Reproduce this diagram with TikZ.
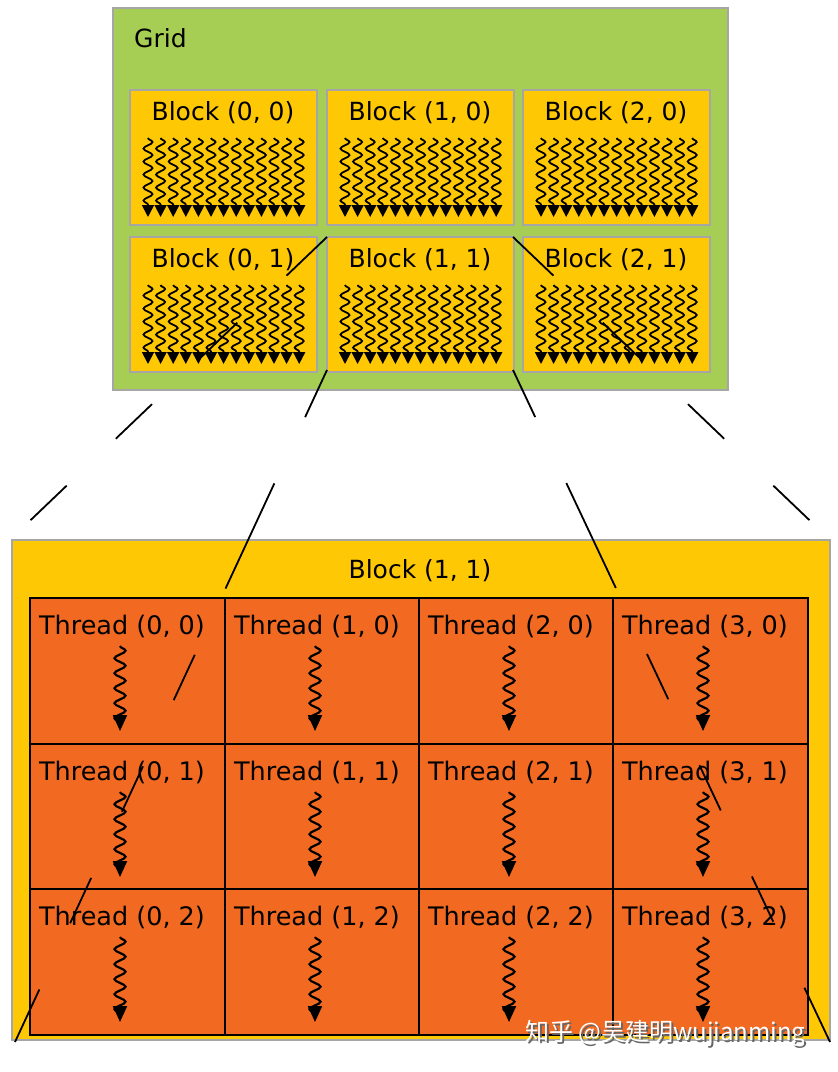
\documentclass[tikz,border=0pt]{standalone}
\usepackage{fontspec}
\setmainfont{DejaVu Sans}
\newfontfamily\cjk{Noto Sans CJK SC}
\usetikzlibrary{decorations.pathmorphing,arrows.meta}
\definecolor{gridg}{HTML}{A6CE55}
\definecolor{blky}{HTML}{FFC805}
\definecolor{thro}{HTML}{F26A22}
\begin{document}
\begin{tikzpicture}[x=1pt,y=-1pt,
  gridbox/.style={fill=gridg,draw=gray!70,line width=1.5pt},
  blockbox/.style={fill=blky,draw=gray!70,line width=1.5pt},
  cell/.style={fill=thro,draw=black,line width=1.8pt},
  thr/.style={line width=2.2pt,decorate,decoration={snake,amplitude=5.5pt,segment length=15pt,post length=8pt},-{Triangle[length=16pt,width=14pt]}},
  bthr/.style={line width=1.8pt,decorate,decoration={snake,amplitude=4.5pt,segment length=13pt,post length=6pt},-{Triangle[length=12pt,width=12pt]}},
  zoomline/.style={line width=1.8pt,dash pattern=on 52pt off 73pt on 116pt off 73pt on 50pt off 73pt on 50pt off 73pt on 50pt off 73pt on 60pt},
  zoomtop/.style={line width=1.8pt,dash pattern=on 56pt off 68pt on 50pt off 68pt on 50pt off 68pt on 50pt off 68pt},
  lbl/.style={font=\fontsize{25}{30}\selectfont,inner sep=0pt}]
\useasboundingbox (0,0) rectangle (838,1072);
\fill[white] (0,0) rectangle (838,1072);
% grid
\draw[gridbox] (113,8) rectangle (728,390);
\node[lbl,anchor=west] (gl) at (134,38) {Grid};
\foreach \c/\x in {0/130,1/327,2/523}{
 \foreach \r/\y in {0/90,1/237}{
  \draw[blockbox] (\x,\y) rectangle ++(187,135);
  \node[lbl] (b\c\r) at (\x+93,\y+23) {Block (\c, \r)};
  \foreach \i in {0,...,12}{
    \draw[bthr] (\x+18+12.6*\i,\y+48) -- (\x+18+12.6*\i,\y+127);
  }
 }}
% big block
\draw[blockbox] (12,540) rectangle (830,1040);
\node[lbl] (bb) at (420,571) {Block (1, 1)};
\foreach \c/\x in {0/30,1/225,2/419,3/613}{
 \foreach \r/\y in {0/598,1/744,2/889}{
  \draw[cell] (\x,\y) rectangle ++(195,146);
  \node[lbl,font=\fontsize{25.5}{30}\selectfont] (t\c\r) at (\x+92,\y+28) {Thread (\c, \r)};
  \draw[thr] (\x+90,\y+48) -- (\x+90,\y+133);
 }}
% zoom lines
\coordinate (a1) at (327,237); \coordinate (a2) at (15,535);
\coordinate (b1) at (513,237); \coordinate (b2) at (825,535);
\coordinate (c1) at (327,370); \coordinate (c2) at (15,1042);
\coordinate (d1) at (513,370); \coordinate (d2) at (830,1042);
\draw[zoomtop] (a1) -- (a2);
\draw[zoomtop] (b1) -- (b2);
\draw[zoomline] (c1) -- (c2);
\draw[zoomline] (d1) -- (d2);
\node[inner sep=0pt,text=gray!80!black,font=\cjk\fontsize{24}{28}\selectfont,anchor=west] at (527,1035) {知乎 @吴建明wujianming};
\node[inner sep=0pt,text=white,font=\cjk\fontsize{24}{28}\selectfont,anchor=west] (wm) at (525,1033) {知乎 @吴建明wujianming};
\end{tikzpicture}
\end{document}
